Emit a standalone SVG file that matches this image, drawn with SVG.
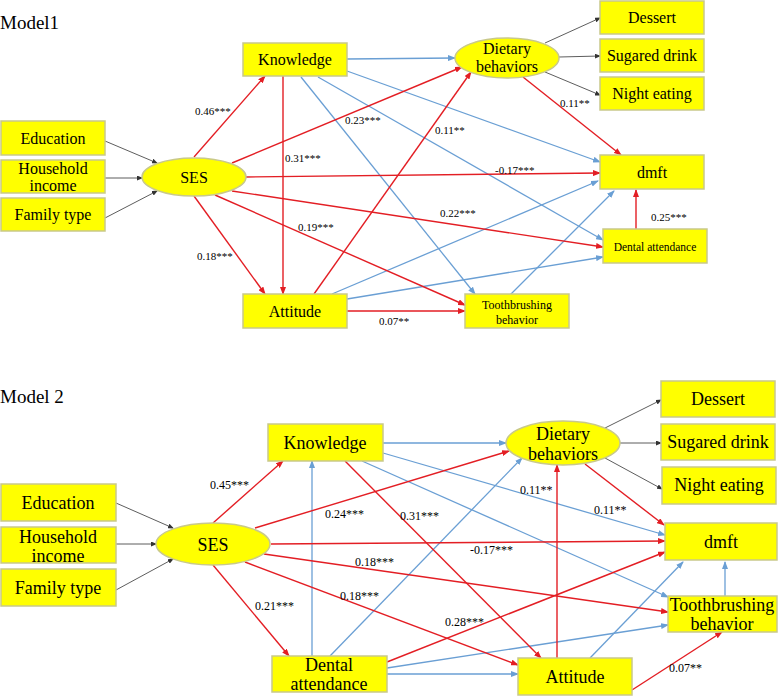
<svg xmlns="http://www.w3.org/2000/svg" width="778" height="697" viewBox="0 0 778 697" font-family="Liberation Serif, serif">
<style>
.b{fill:#ffff00;stroke:#c9c98a;stroke-width:1.5}
text{font-family:'Liberation Serif',serif;fill:#000}
.t{text-anchor:middle;font-size:16px}
.t2{text-anchor:middle;font-size:18px}
.l{font-size:11px}
.r{stroke:#e31e24;stroke-width:1.4;fill:none;marker-end:url(#ar)}
.u{stroke:#6a9fd4;stroke-width:1.3;fill:none;marker-end:url(#au)}
.k{stroke:#333;stroke-width:0.8;fill:none;marker-end:url(#ak)}
</style>
<defs>
<marker id="ar" markerWidth="8" markerHeight="6" refX="7" refY="3" orient="auto" markerUnits="userSpaceOnUse"><path d="M0,0L8,3L0,6z" fill="#e31e24"/></marker>
<marker id="au" markerWidth="8" markerHeight="6" refX="7" refY="3" orient="auto" markerUnits="userSpaceOnUse"><path d="M0,0L8,3L0,6z" fill="#6a9fd4"/></marker>
<marker id="ak" markerWidth="6" markerHeight="5" refX="5" refY="2.5" orient="auto" markerUnits="userSpaceOnUse"><path d="M0,0L6,2.5L0,5z" fill="#333"/></marker>
</defs>
<rect width="778" height="697" fill="#fff"/>
<text x="0" y="29" style="font-size:19px">Model1</text>
<text x="0" y="403" style="font-size:19px">Model 2</text>

<g id="connectors">
<path class="k" d="M105,141L157,163"/><path class="k" d="M105,178L142,178"/><path class="k" d="M105,218L157,191"/>
<path class="k" d="M545,43L600,18"/><path class="k" d="M559,57L600,56"/><path class="k" d="M545,72L600,95"/>
<path class="u" d="M347,59L455,58"/><path class="u" d="M347,71L600,162"/><path class="u" d="M318,77L603,240"/><path class="u" d="M301,77L475,294"/>
<path class="u" d="M332,294L598,181"/><path class="u" d="M347,299L603,257"/><path class="u" d="M510,295L614,191"/>
<path class="r" d="M194,157L265,76"/><path class="r" d="M232,163L462,67"/><path class="r" d="M283,76L283,294"/><path class="r" d="M314,294L471,72"/>
<path class="r" d="M523,77L621,155"/><path class="r" d="M246,177L600,173"/><path class="r" d="M232,191L603,247"/><path class="r" d="M215,195L465,305"/>
<path class="r" d="M194,196L265,294"/><path class="r" d="M347,311L465,311"/><path class="r" d="M636,229L636,190"/>

<path class="k" d="M116,503L173,528"/><path class="k" d="M116,544L156,544"/><path class="k" d="M116,590L173,559"/>
<path class="k" d="M605,428L661,400"/><path class="k" d="M620,443L661,443"/><path class="k" d="M605,458L662,489"/>
<path class="u" d="M383,443L506,443"/><path class="u" d="M383,453L665,535"/><path class="u" d="M362,461L668,597"/><path class="u" d="M312,656L312,461"/>
<path class="u" d="M330,656L522,458"/><path class="u" d="M387,668L668,625"/><path class="u" d="M387,674L518,674"/><path class="u" d="M590,658L683,562"/><path class="u" d="M725,596L725,562"/>
<path class="r" d="M213,523L283,461"/><path class="r" d="M255,528L509,451"/><path class="r" d="M345,461L541,658"/><path class="r" d="M271,544L665,541"/>
<path class="r" d="M264,554L668,612"/><path class="r" d="M245,562L518,665"/><path class="r" d="M213,565L289,656"/><path class="r" d="M387,662L665,552"/>
<path class="r" d="M557,658L557,465"/><path class="r" d="M585,464L664,525"/><path class="r" d="M632,690L722,632"/>

<text class="l" x="195" y="115">0.46***</text><text class="l" x="345" y="124">0.23***</text><text class="l" x="285" y="162">0.31***</text>
<text class="l" x="435" y="134">0.11**</text><text class="l" x="560" y="107">0.11**</text><text class="l" x="495" y="174">-0.17***</text>
<text class="l" x="440" y="217">0.22***</text><text class="l" x="298" y="231">0.19***</text><text class="l" x="197" y="260">0.18***</text>
<text class="l" x="379" y="325">0.07**</text><text class="l" x="651" y="221">0.25***</text>

<text class="l" x="210" y="489" style="font-size:12px">0.45***</text><text class="l" x="325" y="518" style="font-size:12px">0.24***</text><text class="l" x="400" y="520" style="font-size:12px">0.31***</text>
<text class="l" x="470" y="554" style="font-size:12px">-0.17***</text><text class="l" x="355" y="566" style="font-size:12px">0.18***</text><text class="l" x="340" y="600" style="font-size:12px">0.18***</text>
<text class="l" x="255" y="610" style="font-size:12px">0.21***</text><text class="l" x="445" y="626" style="font-size:12px">0.28***</text><text class="l" x="520" y="494" style="font-size:12px">0.11**</text>
<text class="l" x="594" y="514" style="font-size:12px">0.11**</text><text class="l" x="669" y="672" style="font-size:12px">0.07**</text>
</g>

<g id="m1-knowledge"><rect class="b" x="243" y="43" width="104" height="33"/><text class="t" x="295" y="65">Knowledge</text></g>
<g id="m1-dietary"><ellipse class="b" cx="507" cy="58" rx="52" ry="20"/><text class="t" x="507" y="54">Dietary</text><text class="t" x="507" y="72">behaviors</text></g>
<g id="m1-dessert"><rect class="b" x="600" y="1" width="104" height="33"/><text class="t" x="652" y="23">Dessert</text></g>
<g id="m1-sugared"><rect class="b" x="600" y="39" width="104" height="33"/><text class="t" x="652" y="61">Sugared drink</text></g>
<g id="m1-night"><rect class="b" x="600" y="77" width="104" height="33"/><text class="t" x="652" y="99">Night eating</text></g>
<g id="m1-education"><rect class="b" x="1" y="121" width="104" height="34"/><text class="t" x="53" y="144">Education</text></g>
<g id="m1-household"><rect class="b" x="1" y="160" width="104" height="33"/><text class="t" x="53" y="174">Household</text><text class="t" x="53" y="191">income</text></g>
<g id="m1-family"><rect class="b" x="1" y="198" width="104" height="33"/><text class="t" x="53" y="220">Family type</text></g>
<g id="m1-ses"><ellipse class="b" cx="194" cy="177" rx="52" ry="19"/><text class="t" x="194" y="183">SES</text></g>
<g id="m1-dmft"><rect class="b" x="600" y="155" width="104" height="34"/><text class="t" x="652" y="178">dmft</text></g>
<g id="m1-dental"><rect class="b" x="603" y="229" width="104" height="34"/><text x="655" y="251" style="text-anchor:middle;font-size:11.5px">Dental attendance</text></g>
<g id="m1-attitude"><rect class="b" x="243" y="294" width="104" height="34"/><text class="t" x="295" y="317">Attitude</text></g>
<g id="m1-tooth"><rect class="b" x="465" y="294" width="104" height="34"/><text x="517" y="309" style="text-anchor:middle;font-size:12px">Toothbrushing</text><text x="517" y="324" style="text-anchor:middle;font-size:12px">behavior</text></g>

<g id="m2-knowledge"><rect class="b" x="268" y="424" width="115" height="37"/><text class="t2" x="325" y="449">Knowledge</text></g>
<g id="m2-dietary"><ellipse class="b" cx="563" cy="443" rx="57" ry="22"/><text class="t2" x="563" y="440">Dietary</text><text class="t2" x="563" y="460">behaviors</text></g>
<g id="m2-dessert"><rect class="b" x="661" y="381" width="114" height="36"/><text class="t2" x="718" y="405">Dessert</text></g>
<g id="m2-sugared"><rect class="b" x="661" y="424" width="114" height="36"/><text class="t2" x="718" y="448">Sugared drink</text></g>
<g id="m2-night"><rect class="b" x="662" y="467" width="114" height="37"/><text class="t2" x="719" y="491">Night eating</text></g>
<g id="m2-education"><rect class="b" x="1" y="484" width="115" height="37"/><text class="t2" x="58" y="509">Education</text></g>
<g id="m2-household"><rect class="b" x="1" y="527" width="115" height="36"/><text class="t2" x="58" y="543">Household</text><text class="t2" x="58" y="562">income</text></g>
<g id="m2-family"><rect class="b" x="1" y="569" width="115" height="37"/><text class="t2" x="58" y="594">Family type</text></g>
<g id="m2-ses"><ellipse class="b" cx="213" cy="544" rx="57" ry="21"/><text class="t2" x="213" y="551">SES</text></g>
<g id="m2-dmft"><rect class="b" x="665" y="523" width="112" height="37"/><text class="t2" x="721" y="548">dmft</text></g>
<g id="m2-tooth"><rect class="b" x="668" y="596" width="109" height="36"/><text class="t2" x="722" y="611">Toothbrushing</text><text class="t2" x="722" y="630">behavior</text></g>
<g id="m2-dental"><rect class="b" x="272" y="656" width="115" height="36"/><text class="t2" x="329" y="671">Dental</text><text class="t2" x="329" y="690">attendance</text></g>
<g id="m2-attitude"><rect class="b" x="518" y="658" width="114" height="37"/><text class="t2" x="575" y="683">Attitude</text></g>
</svg>
